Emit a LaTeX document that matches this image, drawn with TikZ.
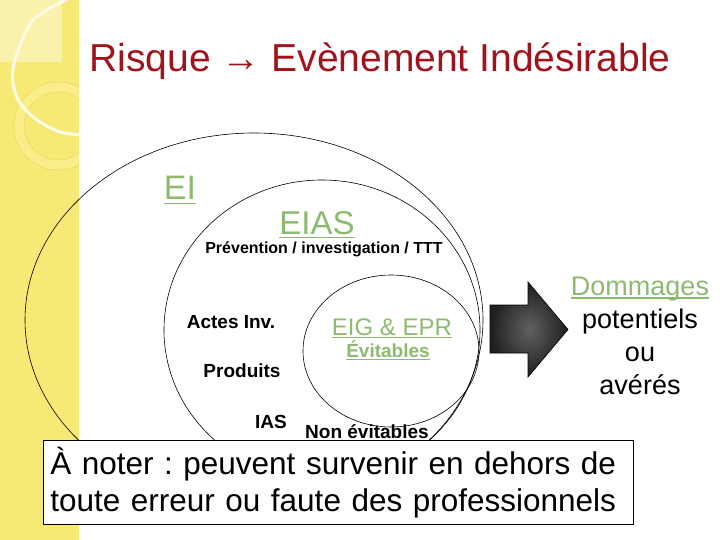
\documentclass[tikz,border=0pt]{standalone}
\usepackage{fontspec}
\setmainfont{Liberation Sans}
\usetikzlibrary{shapes,calc,positioning}
\definecolor{titlered}{RGB}{160,18,28}
\definecolor{eigreen}{RGB}{140,187,112}
\definecolor{stripyellow}{RGB}{246,233,118}
\definecolor{paleyellow}{RGB}{249,241,172}
\definecolor{ringyellow}{RGB}{250,238,138}
\definecolor{ringedge}{RGB}{236,214,96}
\tikzset{
	zone/.style={ellipse,draw,line width=0.6pt,inner sep=0,fill=none},
	titlelbl/.style={color=titlered,inner sep=0,anchor=base,font=\fontsize{39}{44}\selectfont},
	greenlbl/.style={color=eigreen,inner sep=0,anchor=base},
	boldlbl/.style={inner sep=0,anchor=base,font=\fontsize{19}{22}\selectfont\bfseries},
	blacklbl/.style={inner sep=0,anchor=base,font=\fontsize{27}{33}\selectfont},
	uline/.style={eigreen,line width=#1},
	uline/.default=1.5pt,
	notebox/.style={draw,fill=white,line width=0.8pt,align=left,inner xsep=7pt,
		font=\fontsize{31.5}{36.5}\selectfont},
	bigarrow/.style={draw=black,line width=0.6pt,inner color=black!62,outer color=black!88}
}
\frenchspacing
\begin{document}
\begin{tikzpicture}[x=1pt,y=-1pt]
	\useasboundingbox (0,0) rectangle (720,540);
	%%%left strip
	\fill[stripyellow] (0,0) rectangle (79,540);
	\begin{scope}
		\clip (0,0) rectangle (79,540);
		\fill[paleyellow] (0,0) rectangle (62,62);
		\draw[ringyellow,line width=10pt] (58,126) circle [radius=39pt];
		\draw[ringedge,line width=0.5pt] (58,126) circle [radius=44pt] (58,126) circle [radius=34pt];
		\draw[white!70!paleyellow,line width=3pt] plot[smooth] coordinates {(70,-2) (33,20) (15,60) (13,83) (20,103) (37,120) (60,132) (82,135)};
	\end{scope}
	
	%%%title
	\node[titlelbl] (title) at (380,72) {Risque → Evènement Indésirable};
	
	%%%zones
	\node[zone,minimum width=458pt,minimum height=374pt] (EIzone) at (254,320) {};
	\node[zone,minimum width=316pt,minimum height=300pt] (EIASzone) at (322,330) {};
	\node[zone,minimum width=176pt,minimum height=152pt] (EIGzone) at (391,351) {};
	
	\node[greenlbl,font=\fontsize{34}{40}\selectfont] (EI) at (180,200) {EI};
	\node[greenlbl,font=\fontsize{33}{38}\selectfont] (EIAS) at (317,234) {EIAS};
	\node[boldlbl,font=\fontsize{16}{19}\selectfont\bfseries] (prev) at (324,253) {Prévention / investigation / TTT};
	\node[boldlbl] (actes) at (231,328) {Actes Inv.};
	\node[boldlbl] (produits) at (242,377) {Produits};
	\node[boldlbl] (IAS) at (271,428) {IAS};
	\node[boldlbl] (nonevit) at (367,438) {Non évitables};
	\node[greenlbl,font=\fontsize{24}{28}\selectfont] (EIG) at (392,335) {EIG \& EPR};
	\node[greenlbl,font=\fontsize{19}{22}\selectfont\bfseries] (evit) at (388,357) {Évitables};
	
	%%%arrow
	\shadedraw[bigarrow] (490,305) -- (528,305) -- (528,282) -- (568,329.5) -- (528,377) -- (528,353) -- (490,353) -- cycle;
	\node[greenlbl,font=\fontsize{27}{33}\selectfont] (dommages) at (640,295) {Dommages};
	\node[blacklbl] (potentiels) at (640,328) {potentiels};
	\node[blacklbl] (ou) at (640,361) {ou};
	\node[blacklbl] (averes) at (640,394) {avérés};
	
	%%%underlines
	\draw[uline=1.7pt] ([yshift=-3.5pt]EI.base west) -- ([yshift=-3.5pt]EI.base east);
	\draw[uline=1.7pt] ([yshift=-3.5pt]EIAS.base west) -- ([yshift=-3.5pt]EIAS.base east);
	\draw[uline=1.2pt] ([yshift=-2.5pt]EIG.base west) -- ([yshift=-2.5pt]EIG.base east);
	\draw[uline=1.1pt] ([yshift=-2.2pt]evit.base west) -- ([yshift=-2.2pt]evit.base east);
	\draw[uline=1.4pt] ([yshift=-3pt]dommages.base west) -- ([yshift=-3pt]dommages.base east);
	
	%%%note
	\node[notebox,anchor=north west,minimum width=590pt,minimum height=84pt,text width=576pt] (note) at (43,440)
		{À noter : peuvent survenir en dehors de\\toute erreur ou faute des professionnels};
\end{tikzpicture}
\end{document}
